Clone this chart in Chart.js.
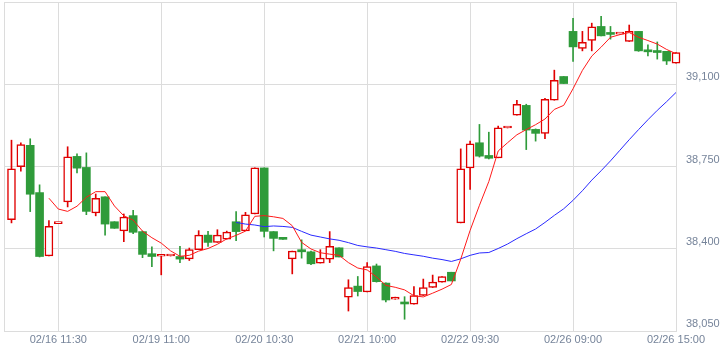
<!DOCTYPE html>
<html>
<head>
<meta charset="utf-8">
<script src="https://cdn.jsdelivr.net/npm/chart.js@4.4.1/dist/chart.umd.min.js"></script>
<style>
  html, body { margin: 0; padding: 0; background: #fff; }
  canvas { display: block; }
</style>
</head>
<body>
<canvas id="chart" width="725" height="353"></canvas>
<script>
// 30-minute candles, 02/16 09:00 .. 02/26 15:00
const opens = [38524, 38749, 38840, 38639, 38370, 38507, 38599, 38793, 38746, 38552,
  38621, 38515, 38476, 38541, 38473, 38379, 38368, 38369, 38367, 38357,
  38396, 38458, 38427, 38441, 38515, 38476, 38548, 38744, 38473, 38442,
  38357, 38396, 38387, 38339, 38356, 38404, 38194, 38241, 38216, 38327,
  38254, 38185, 38168, 38164, 38201, 38235, 38258, 38300, 38510, 38744,
  38851, 38797, 38787, 38914, 38968, 39010, 38908, 38891, 39032, 39133,
  39325, 39252, 39286, 39346, 39318, 39313, 39282, 39325, 39246, 39242,
  39240, 39190];
const highs = [38862, 38851, 38868, 38672, 38520, 38508, 38834, 38804, 38808, 38633,
  38621, 38515, 38548, 38563, 38475, 38408, 38370, 38370, 38410, 38403,
  38477, 38474, 38481, 38475, 38558, 38555, 38744, 38744, 38473, 38442,
  38390, 38438, 38390, 38396, 38473, 38404, 38268, 38282, 38341, 38335,
  38255, 38194, 38196, 38239, 38271, 38288, 38282, 38300, 38825, 38858,
  38929, 38896, 38922, 38915, 39032, 39015, 38910, 39040, 39160, 39133,
  39380, 39325, 39360, 39389, 39346, 39314, 39352, 39325, 39268, 39280,
  39240, 39235];
const lows = [38510, 38730, 38558, 38365, 38370, 38507, 38578, 38723, 38545, 38540,
  38458, 38487, 38430, 38464, 38362, 38324, 38289, 38369, 38341, 38350,
  38396, 38410, 38427, 38441, 38434, 38476, 38548, 38450, 38391, 38440,
  38293, 38360, 38332, 38339, 38341, 38365, 38135, 38199, 38216, 38258,
  38174, 38185, 38100, 38164, 38201, 38235, 38258, 38263, 38510, 38652,
  38790, 38782, 38787, 38914, 38968, 38822, 38858, 38868, 39032, 39103,
  39197, 39242, 39242, 39306, 39292, 39313, 39282, 39240, 39221, 39207,
  39184, 39190];
const closes = [38740, 38843, 38632, 38367, 38495, 38508, 38791, 38743, 38559, 38615,
  38505, 38487, 38535, 38470, 38376, 38367, 38370, 38370, 38356, 38396,
  38458, 38427, 38458, 38471, 38473, 38544, 38744, 38474, 38444, 38440,
  38390, 38387, 38336, 38360, 38410, 38365, 38235, 38218, 38324, 38260,
  38182, 38194, 38165, 38201, 38235, 38258, 38282, 38263, 38740, 38847,
  38794, 38785, 38915, 38915, 39015, 38905, 38891, 39036, 39117, 39103,
  39259, 39278, 39344, 39306, 39312, 39314, 39325, 39242, 39238, 39235,
  39199, 39235];

// moving averages (red short, blue long)
const maShort = [null, null, null, null, 38615, 38569, 38559, 38581, 38619, 38643,
  38643, 38582, 38540, 38522, 38475, 38447, 38424, 38391, 38368, 38372,
  38390, 38401, 38419, 38442, 38457, 38475, 38538, 38541, 38536, 38529,
  38498, 38427, 38399, 38383, 38377, 38372, 38341, 38318, 38310, 38280,
  38244, 38236, 38225, 38200, 38195, 38211, 38228, 38248, 38356, 38478,
  38585, 38686, 38816, 38851, 38885, 38907, 38928, 38952, 38993, 39010,
  39081, 39159, 39220, 39258, 39300, 39311, 39320, 39300, 39286, 39271,
  39248, 39230];
const maLong = [null, null, null, null, null, null, null, null, null, null,
  null, null, null, null, null, null, null, null, null, null,
  null, null, null, null, 38512, 38505, 38501, 38494, 38497, 38495,
  38491, 38474, 38458, 38450, 38442, 38436, 38426, 38414, 38408, 38403,
  38396, 38389, 38380, 38374, 38368, 38360, 38354, 38346, 38357, 38372,
  38382, 38384, 38401, 38420, 38443, 38464, 38484, 38512, 38542, 38570,
  38606, 38647, 38692, 38732, 38774, 38819, 38864, 38907, 38949, 38989,
  39026, 39065];

const xTickIdx = [5, 16, 27, 38, 49, 60, 71];
const xTickLabels = ['02/16 11:30', '02/19 11:00', '02/20 10:30', '02/21 10:00', '02/22 09:30', '02/26 09:00', '02/26 15:00'];
const yTickValues = [38050, 38400, 38750, 39100];

const UP = '#e00000';
const DOWN = '#2f9b3a';
const TEXT = '#76849a';
const FONT = { family: 'Liberation Sans, Arial, sans-serif', size: 11 };

const isUp = opens.map((o, i) => closes[i] >= o);

// light grey frame round the plot area
const frame = {
    id: 'frame',
    beforeDatasetsDraw(chart) {
        const { ctx, chartArea: a } = chart;
        ctx.save();
        ctx.strokeStyle = '#dcdcdc';
        ctx.lineWidth = 1;
        ctx.strokeRect(Math.round(a.left) + 0.5, Math.round(a.top) + 0.5,
            Math.round(a.right - a.left), Math.round(a.bottom - a.top));
        ctx.restore();
    }
};

new Chart(document.getElementById('chart'), {
    type: 'bar',
    data: {
        datasets: [
            {
                type: 'line',
                data: maShort.map((v, i) => ({ x: i, y: v })),
                borderColor: '#ff1a1a',
                borderWidth: 1,
                pointRadius: 0,
                tension: 0,
                order: 0
            },
            {
                type: 'line',
                data: maLong.map((v, i) => ({ x: i, y: v })),
                borderColor: '#2a2aff',
                borderWidth: 1,
                pointRadius: 0,
                tension: 0,
                order: 0
            },
            {
                // bodies
                data: opens.map((o, i) => ({ x: i, y: [o, closes[i]] })),
                backgroundColor: isUp.map(u => u ? '#ffffff' : DOWN),
                borderColor: isUp.map(u => u ? UP : DOWN),
                borderWidth: isUp.map(u => u ? 1.5 : 0),
                borderSkipped: false,
                barThickness: 8,
                minBarLength: 2,
                grouped: false,
                clip: false,
                order: 1
            },
            {
                // wicks
                data: lows.map((l, i) => ({ x: i, y: [l, highs[i]] })),
                backgroundColor: isUp.map(u => u ? UP : DOWN),
                borderWidth: 0,
                barThickness: 1,
                grouped: false,
                clip: false,
                order: 2
            }
        ]
    },
    options: {
        responsive: false,
        animation: false,
        devicePixelRatio: 1,
        layout: { padding: { left: 4, top: 2, right: 0, bottom: 0 } },
        plugins: {
            legend: { display: false },
            tooltip: { enabled: false }
        },
        scales: {
            x: {
                type: 'linear',
                min: -0.8,
                max: 71,
                offset: false,
                grid: { color: '#dcdcdc', drawTicks: false, offset: false },
                border: { color: '#dcdcdc' },
                afterBuildTicks: (scale) => {
                    scale.ticks = xTickIdx.map(v => ({ value: v }));
                },
                afterFit: (scale) => {
                    scale.height = 22;
                    scale.paddingLeft = 0;
                    scale.paddingRight = 0;
                },
                ticks: {
                    autoSkip: false,
                    maxRotation: 0,
                    padding: 2,
                    color: TEXT,
                    font: FONT,
                    callback: (v) => xTickLabels[xTickIdx.indexOf(v)]
                }
            },
            y: {
                position: 'right',
                min: 38050,
                max: 39450,
                grid: { color: '#dcdcdc', drawTicks: false },
                border: { color: '#dcdcdc' },
                afterFit: (scale) => {
                    scale.width = 49;
                    scale.paddingTop = 0;
                    scale.paddingBottom = 0;
                },
                ticks: {
                    stepSize: 350,
                    padding: 10,
                    labelOffset: -7,
                    color: TEXT,
                    font: FONT,
                    callback: (v) => yTickValues.includes(v) ? v.toLocaleString('en-US') : ''
                }
            }
        }
    },
    plugins: [frame]
});
</script>
</body>
</html>
